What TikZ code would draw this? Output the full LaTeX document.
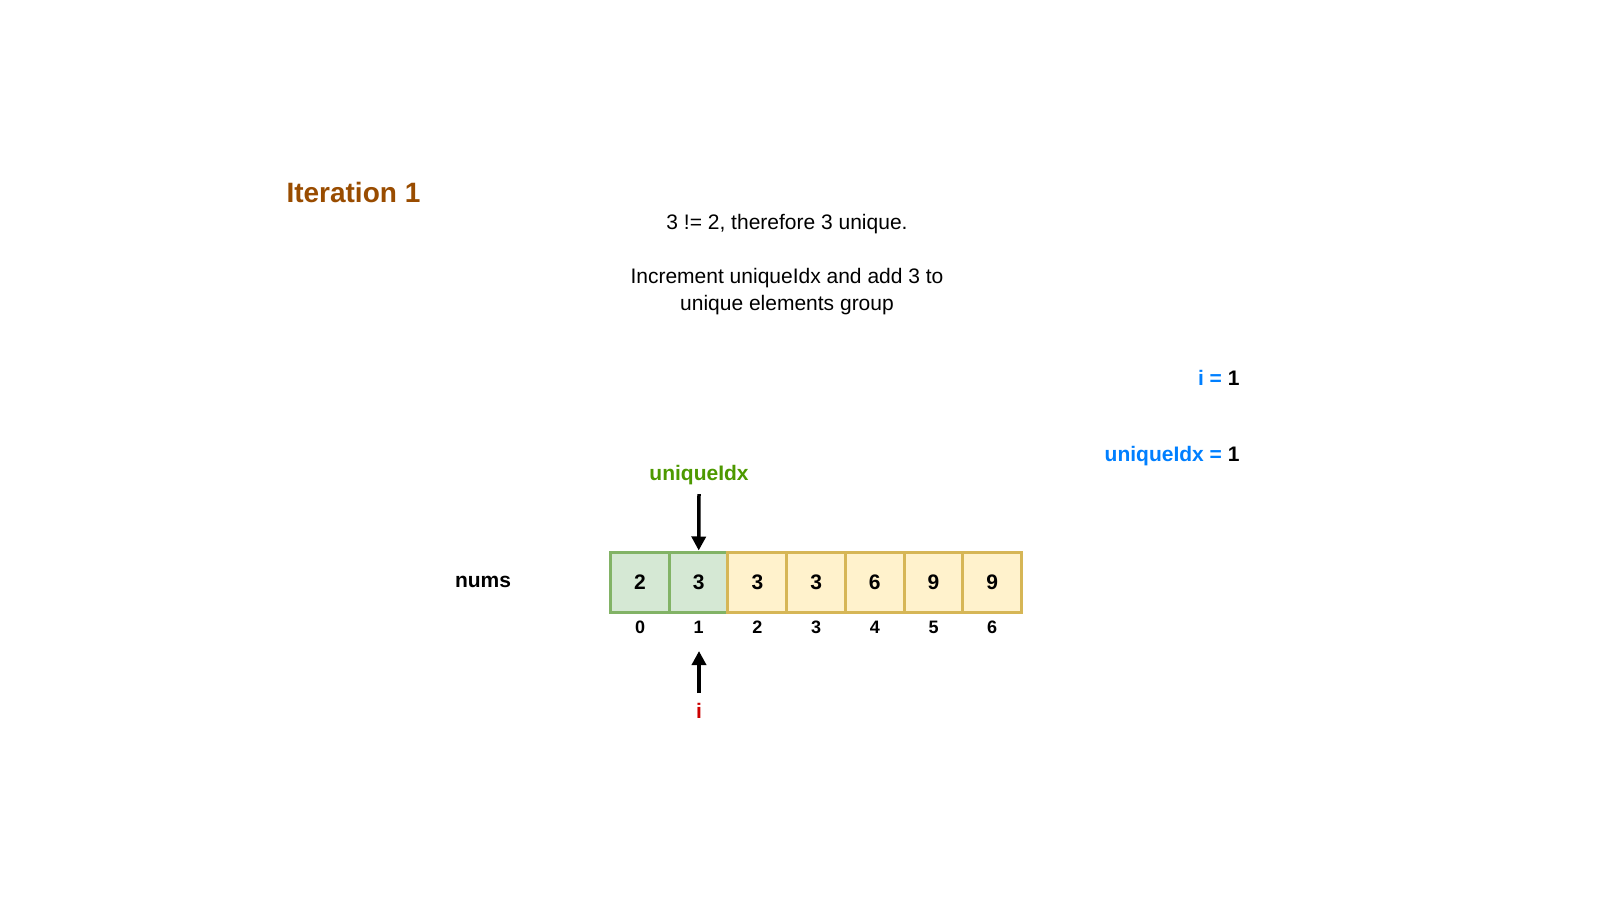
\documentclass[tikz,border=0pt]{standalone}
\usepackage{fontspec}
\setmainfont{Liberation Sans}
\usetikzlibrary{arrows.meta}
\definecolor{gfill}{HTML}{D5E8D4}\definecolor{gline}{HTML}{82B366}
\definecolor{yfill}{HTML}{FFF2CC}\definecolor{yline}{HTML}{D6B656}
\definecolor{brown}{HTML}{994C00}\definecolor{grn}{HTML}{4D9900}
\definecolor{rd}{HTML}{CC0000}\definecolor{blu}{HTML}{007FFF}
\tikzset{
 cell/.style={draw, line width=3pt, minimum width=59pt, minimum height=60pt, inner sep=0pt, font=\fontsize{21}{25}\selectfont\bfseries},
 gcell/.style={cell, fill=gfill, draw=gline},
 ycell/.style={cell, fill=yfill, draw=yline},
 idx/.style={font=\fontsize{18}{22}\selectfont\bfseries},
 ptr/.style={line width=3.5pt, -{Triangle[length=14pt,width=14pt]}},
 lbl/.style={font=\fontsize{21}{25}\selectfont\bfseries}
}
\begin{document}
\begin{tikzpicture}[x=1pt,y=-1pt]
\useasboundingbox (0,0) rectangle (1600,900);
\node[anchor=west, font=\fontsize{28}{32}\selectfont\bfseries, text=brown] (title) at (283,192) {Iteration 1};
\node[font=\fontsize{21}{27}\selectfont, align=center] (d1) at (787,224) {3 != 2, therefore 3 unique.};
\node[font=\fontsize{21}{27}\selectfont, align=center] (d2) at (787,292) {Increment uniqueIdx and add 3 to\\unique elements group};
\node[lbl, anchor=east] (iv) at (1243,378) {\textcolor{blu}{i =} 1};
\node[lbl, anchor=east] (uv) at (1243,456) {\textcolor{blu}{uniqueIdx =} 1};
\node[lbl] (nums) at (483,582) {nums};
\foreach \v/\s/\n [count=\k from 0] in {2/gcell/c0,3/gcell/c1,3/ycell/c2,3/ycell/c3,6/ycell/c4,9/ycell/c5,9/ycell/c6}{
  \node[\s] (\n) at (640+58.7*\k,582) {\v};
  \node[idx] (i\k) at (640+58.7*\k,627) {\k};
}
\node[lbl, text=grn] (ul) at (699,475) {uniqueIdx};
\coordinate (ua) at (699,494);
\draw[ptr] (ua) -- (c1.north);
\node[lbl, text=rd] (il) at (699,711) {i};
\coordinate (ia) at (699,693);
\coordinate (ib) at (699,651);
\draw[ptr] (ia) -- (ib);
\end{tikzpicture}
\end{document}
